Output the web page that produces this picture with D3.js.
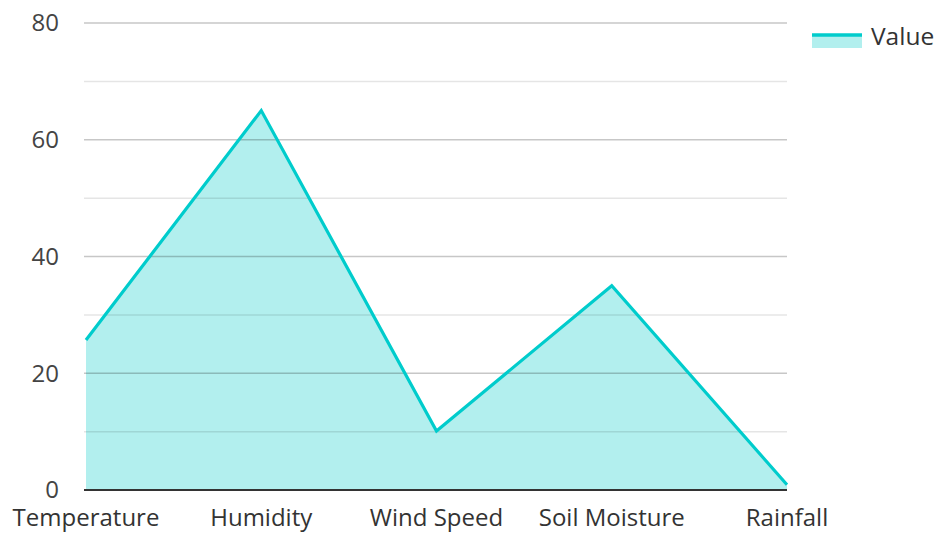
<!DOCTYPE html>
<html><head><meta charset="utf-8">
<script src="https://cdn.jsdelivr.net/npm/d3@7"></script>
<style>body{margin:0;background:#fff}svg{display:block;font-family:"Open Sans",sans-serif}</style>
</head><body><svg id="c" width="937" height="533"></svg>
<script>
const categories = ["Temperature","Humidity","Wind Speed","Soil Moisture","Rainfall"];
const values = [25.7, 65, 10.1, 35, 0.9];
const yTicks = [0,20,40,60,80];
const minorTicks = [10,30,50,70];
const seriesName = "Value";

const svg = d3.select("#c");
const x = d3.scalePoint().domain(categories).range([86,787]);
const y = d3.scaleLinear().domain([0,80]).range([490,23]);
const lineColor = "#00cccc", fillColor = "#b2efee";

svg.append("path").datum(values)
  .attr("fill", fillColor)
  .attr("d", d3.area().x((d,i)=>x(categories[i])).y0(y(0)).y1(d=>y(d)));

const g = svg.append("g");
g.selectAll(".minor").data(minorTicks).join("line")
  .attr("x1",84).attr("x2",787).attr("y1",d=>y(d)).attr("y2",d=>y(d))
  .attr("stroke","#000").attr("stroke-opacity",0.1).attr("stroke-width",1.5);
g.selectAll(".major").data(yTicks.filter(d=>d>0)).join("line")
  .attr("x1",84).attr("x2",787).attr("y1",d=>y(d)).attr("y2",d=>y(d))
  .attr("stroke","#000").attr("stroke-opacity",0.22).attr("stroke-width",1.5);

svg.append("path").datum(values)
  .attr("fill","none").attr("stroke",lineColor).attr("stroke-width",3.2)
  .attr("d", d3.line().x((d,i)=>x(categories[i])).y(d=>y(d)));

svg.append("line").attr("x1",84).attr("x2",787).attr("y1",y(0)).attr("y2",y(0))
  .attr("stroke","#333").attr("stroke-width",2);

svg.selectAll(".yl").data(yTicks).join("text")
  .attr("x",59).attr("y",d=>y(d)).attr("dy","0.35em")
  .attr("text-anchor","end").attr("font-size",24).attr("fill","#444").text(d=>d);

svg.selectAll(".xl").data(categories).join("text")
  .attr("x",d=>x(d)).attr("y",518).attr("dy","0.35em")
  .attr("text-anchor","middle").attr("font-size",24).attr("fill","#333").text(d=>d);

const lg = svg.append("g");
lg.append("rect").attr("x",812).attr("y",35).attr("width",50).attr("height",13).attr("fill",fillColor);
lg.append("line").attr("x1",812).attr("x2",862).attr("y1",35).attr("y2",35).attr("stroke",lineColor).attr("stroke-width",3.5);
lg.append("text").attr("x",871).attr("y",36).attr("dy","0.35em").attr("font-size",24.5).attr("fill","#333").text(seriesName);
</script></body></html>
